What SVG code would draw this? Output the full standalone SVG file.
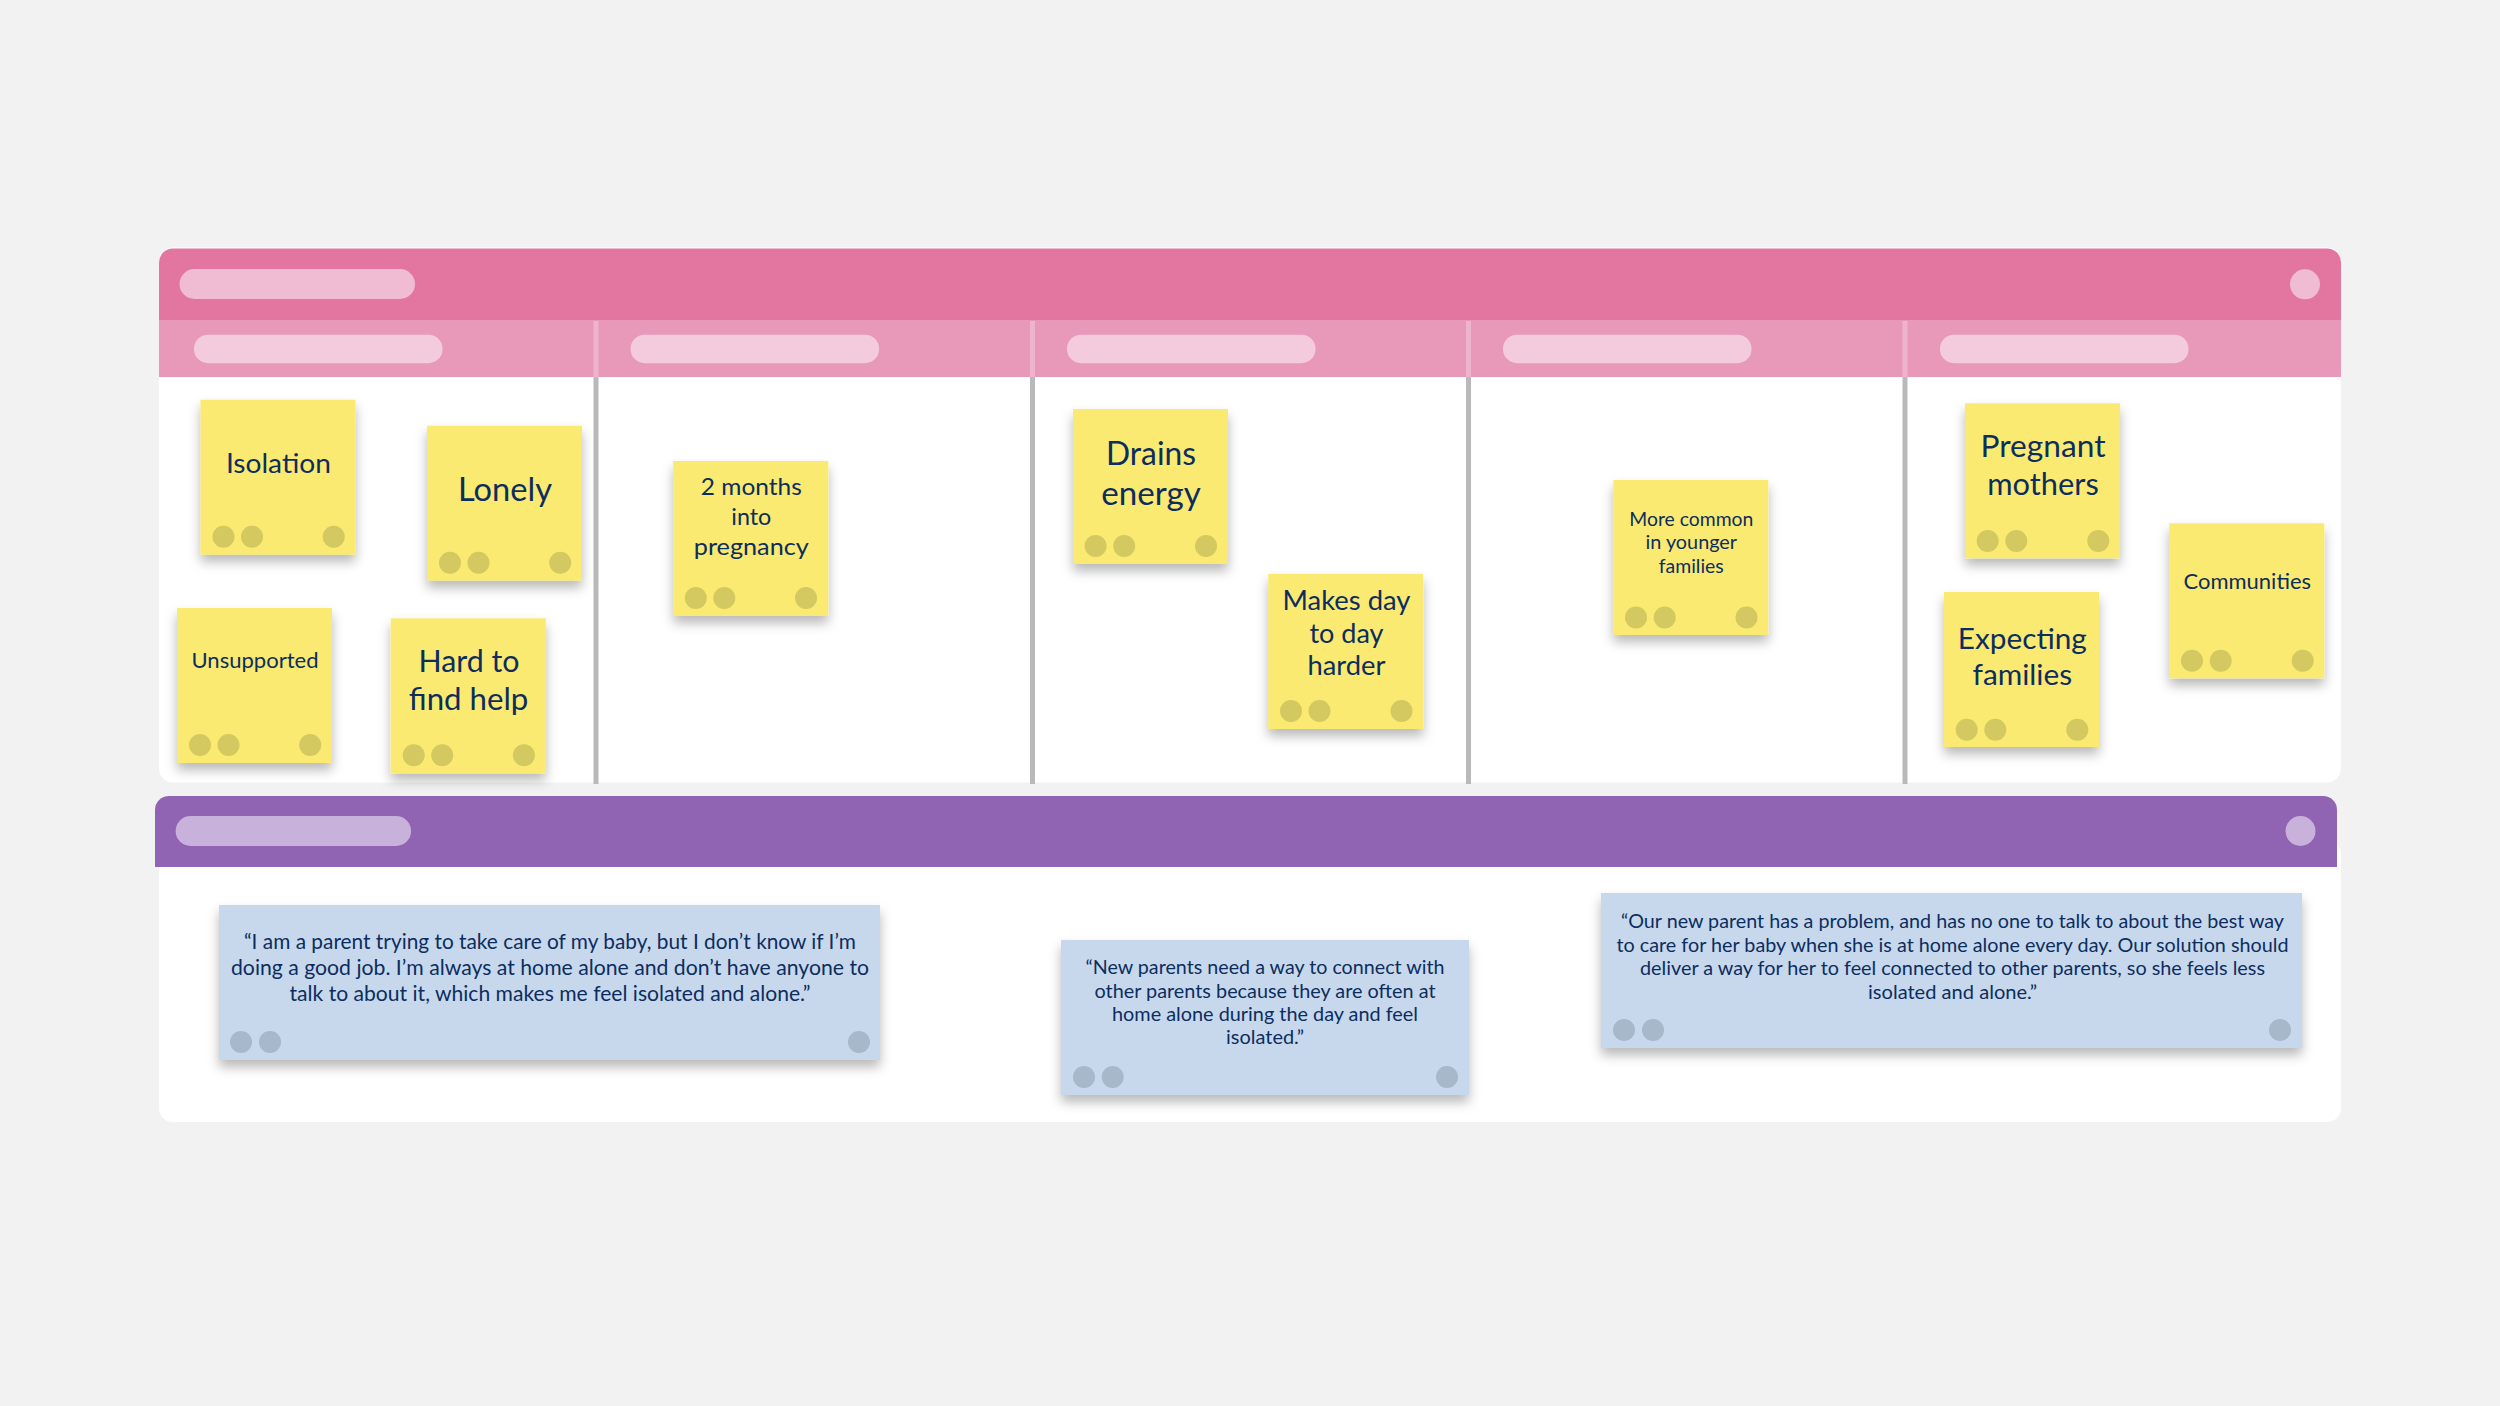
<svg xmlns="http://www.w3.org/2000/svg" width="2500" height="1406" viewBox="0 0 2500 1406">
<style>
text{font-family:"Lato","Liberation Sans",sans-serif;fill:#0c2d5e;text-anchor:middle}
.y{fill:#faea71;filter:url(#sh)}
.b{fill:#c7d8ed;filter:url(#sh)}
.yd{fill:#d4c860}
.bd{fill:#a6b8ca}
.pp{fill:#f0bcd3}
.sp{fill:#f4cbdc}
.dv{fill:#b9b9b9}
.dl{fill:#efb4cd}
</style>
<defs>
<filter id="sh" x="-20%" y="-20%" width="140%" height="140%"><feDropShadow dx="0" dy="7" stdDeviation="6" flood-color="#000" flood-opacity="0.28"/></filter>
</defs>
<rect width="2500" height="1406" fill="#f2f2f2"/>
<g id="panel-top">
<rect x="159" y="247.5" width="2182" height="535" rx="14" fill="#fff"/>
<path d="M159 320V262.500a14 14 0 0 1 14-14H2327a14 14 0 0 1 14 14V320Z" fill="#e376a0"/>
<rect x="159" y="320" width="2182" height="57" fill="#e898b8"/>
<rect class="pp" x="179.500" y="269" width="235.500" height="30" rx="15"/>
<circle class="pp" cx="2305" cy="284.300" r="15"/>
<rect class="sp" x="194" y="334.700" width="248.500" height="28.500" rx="14"/>
<rect class="sp" x="630.600" y="334.700" width="248.500" height="28.500" rx="14"/>
<rect class="sp" x="1067" y="334.700" width="248.500" height="28.500" rx="14"/>
<rect class="sp" x="1503" y="334.700" width="248.500" height="28.500" rx="14"/>
<rect class="sp" x="1940" y="334.700" width="248.500" height="28.500" rx="14"/>
<rect class="dl" x="593.500" y="321" width="5" height="56"/>
<rect class="dl" x="1030" y="321" width="5" height="56"/>
<rect class="dl" x="1466" y="321" width="5" height="56"/>
<rect class="dl" x="1902.500" y="321" width="5" height="56"/>
<rect class="dv" x="593.500" y="377" width="5" height="407"/>
<rect class="dv" x="1030" y="377" width="5" height="407"/>
<rect class="dv" x="1466" y="377" width="5" height="407"/>
<rect class="dv" x="1902.500" y="377" width="5" height="407"/>
</g>
<g id="panel-bottom">
<rect x="159" y="840" width="2182" height="282" rx="14" fill="#fff"/>
<path d="M155 867V810a14 14 0 0 1 14-14H2323a14 14 0 0 1 14 14V867Z" fill="#9163b3"/>
<rect x="175.600" y="816" width="235.500" height="30" rx="15" fill="#c8b1da"/>
<circle cx="2300.500" cy="831" r="15" fill="#c8b1da"/>
</g>
<g id="note-isolation"><rect class="y" x="200.500" y="399.700" width="155" height="155"/><circle class="yd" cx="223.500" cy="536.700" r="11"/><circle class="yd" cx="252" cy="536.700" r="11"/><circle class="yd" cx="333.700" cy="536.700" r="11"/><text x="278.400" y="472.700" font-size="27" textLength="105" lengthAdjust="spacingAndGlyphs">Isolation</text></g>
<g id="note-lonely"><rect class="y" x="427" y="425.700" width="155" height="155"/><circle class="yd" cx="450" cy="562.700" r="11"/><circle class="yd" cx="478.500" cy="562.700" r="11"/><circle class="yd" cx="560.200" cy="562.700" r="11"/><text x="505" y="500.700" font-size="32" textLength="94" lengthAdjust="spacingAndGlyphs">Lonely</text></g>
<g id="note-unsupported"><rect class="y" x="177" y="608" width="155" height="155"/><circle class="yd" cx="200" cy="745" r="11"/><circle class="yd" cx="228.500" cy="745" r="11"/><circle class="yd" cx="310.200" cy="745" r="11"/><text x="255" y="667.700" font-size="21" textLength="127" lengthAdjust="spacingAndGlyphs">Unsupported</text></g>
<g id="note-hard"><rect class="y" x="390.700" y="618.300" width="155" height="155"/><circle class="yd" cx="413.700" cy="755.300" r="11"/><circle class="yd" cx="442.200" cy="755.300" r="11"/><circle class="yd" cx="523.900" cy="755.300" r="11"/><text x="469" y="672" font-size="30" textLength="101" lengthAdjust="spacingAndGlyphs">Hard to</text><text x="468.600" y="710" font-size="30" textLength="119.500" lengthAdjust="spacingAndGlyphs">find help</text></g>
<g id="note-months"><rect class="y" x="673.300" y="461" width="155" height="155"/><circle class="yd" cx="695.800" cy="598" r="11"/><circle class="yd" cx="724.300" cy="598" r="11"/><circle class="yd" cx="806" cy="598" r="11"/><text x="751.300" y="494.700" font-size="24" textLength="101" lengthAdjust="spacingAndGlyphs">2 months</text><text x="751.300" y="524.700" font-size="24" textLength="40" lengthAdjust="spacingAndGlyphs">into</text><text x="751.300" y="554.700" font-size="24" textLength="115" lengthAdjust="spacingAndGlyphs">pregnancy</text></g>
<g id="note-drains"><rect class="y" x="1073" y="409" width="155" height="155"/><circle class="yd" cx="1095.600" cy="546" r="11"/><circle class="yd" cx="1124.200" cy="546" r="11"/><circle class="yd" cx="1206" cy="546" r="11"/><text x="1151" y="464.700" font-size="32" textLength="90" lengthAdjust="spacingAndGlyphs">Drains</text><text x="1151" y="504.700" font-size="32" textLength="99.500" lengthAdjust="spacingAndGlyphs">energy</text></g>
<g id="note-makes"><rect class="y" x="1268.300" y="574" width="155" height="155"/><circle class="yd" cx="1291" cy="711" r="11"/><circle class="yd" cx="1319.500" cy="711" r="11"/><circle class="yd" cx="1401.500" cy="711" r="11"/><text x="1346.500" y="610" font-size="26" textLength="128" lengthAdjust="spacingAndGlyphs">Makes day</text><text x="1346.500" y="642.700" font-size="26" textLength="74" lengthAdjust="spacingAndGlyphs">to day</text><text x="1346.500" y="675.300" font-size="26" textLength="78" lengthAdjust="spacingAndGlyphs">harder</text></g>
<g id="note-common"><rect class="y" x="1613.300" y="480" width="155" height="155"/><circle class="yd" cx="1636" cy="617.500" r="11"/><circle class="yd" cx="1664.700" cy="617.500" r="11"/><circle class="yd" cx="1746.500" cy="617.500" r="11"/><text x="1691.300" y="526" font-size="19" textLength="124" lengthAdjust="spacingAndGlyphs">More common</text><text x="1691.300" y="549.300" font-size="19" textLength="91.500" lengthAdjust="spacingAndGlyphs">in younger</text><text x="1691.300" y="572.700" font-size="19" textLength="65" lengthAdjust="spacingAndGlyphs">families</text></g>
<g id="note-pregnant"><rect class="y" x="1965" y="403.300" width="155" height="155"/><circle class="yd" cx="1987.700" cy="541" r="11"/><circle class="yd" cx="2016.300" cy="541" r="11"/><circle class="yd" cx="2098.300" cy="541" r="11"/><text x="2043" y="456.700" font-size="30" textLength="125" lengthAdjust="spacingAndGlyphs">Pregnant</text><text x="2043" y="494.700" font-size="30" textLength="111.500" lengthAdjust="spacingAndGlyphs">mothers</text></g>
<g id="note-communities"><rect class="y" x="2169.300" y="523.300" width="155" height="155"/><circle class="yd" cx="2192" cy="660.700" r="11"/><circle class="yd" cx="2220.700" cy="660.700" r="11"/><circle class="yd" cx="2302.700" cy="660.700" r="11"/><text x="2247.300" y="588.700" font-size="21" textLength="127.500" lengthAdjust="spacingAndGlyphs">Communities</text></g>
<g id="note-expecting"><rect class="y" x="1944" y="592" width="155" height="155"/><circle class="yd" cx="1966.700" cy="729.700" r="11"/><circle class="yd" cx="1995.300" cy="729.700" r="11"/><circle class="yd" cx="2077.300" cy="729.700" r="11"/><text x="2022.300" y="648.700" font-size="29" textLength="129" lengthAdjust="spacingAndGlyphs">Expecting</text><text x="2022.300" y="684.700" font-size="29" textLength="99.500" lengthAdjust="spacingAndGlyphs">families</text></g>
<g id="quote-1"><rect class="b" x="219" y="905" width="661" height="155"/><circle class="bd" cx="241" cy="1042" r="11"/><circle class="bd" cx="270" cy="1042" r="11"/><circle class="bd" cx="859" cy="1042" r="11"/><text x="550" y="949.300" font-size="21" textLength="612" lengthAdjust="spacingAndGlyphs">“I am a parent trying to take care of my baby, but I don’t know if I’m</text><text x="550" y="975.300" font-size="21" textLength="638" lengthAdjust="spacingAndGlyphs">doing a good job. I’m always at home alone and don’t have anyone to</text><text x="550" y="1001.300" font-size="21" textLength="521" lengthAdjust="spacingAndGlyphs">talk to about it, which makes me feel isolated and alone.”</text></g>
<g id="quote-2"><rect class="b" x="1061" y="940" width="408" height="155"/><circle class="bd" cx="1084" cy="1077" r="11"/><circle class="bd" cx="1112.700" cy="1077" r="11"/><circle class="bd" cx="1447" cy="1077" r="11"/><text x="1265" y="974" font-size="19" textLength="359" lengthAdjust="spacingAndGlyphs">“New parents need a way to connect with</text><text x="1265" y="997.700" font-size="19" textLength="341" lengthAdjust="spacingAndGlyphs">other parents because they are often at</text><text x="1265" y="1021" font-size="19" textLength="306" lengthAdjust="spacingAndGlyphs">home alone during the day and feel</text><text x="1265" y="1044.300" font-size="19" textLength="78" lengthAdjust="spacingAndGlyphs">isolated.”</text></g>
<g id="quote-3"><rect class="b" x="1601" y="893" width="701" height="155"/><circle class="bd" cx="1624" cy="1030" r="11"/><circle class="bd" cx="1653" cy="1030" r="11"/><circle class="bd" cx="2280" cy="1030" r="11"/><text x="1952.500" y="928" font-size="19" textLength="663" lengthAdjust="spacingAndGlyphs">“Our new parent has a problem, and has no one to talk to about the best way</text><text x="1952.500" y="951.500" font-size="19" textLength="672" lengthAdjust="spacingAndGlyphs">to care for her baby when she is at home alone every day. Our solution should</text><text x="1952.500" y="975" font-size="19" textLength="625" lengthAdjust="spacingAndGlyphs">deliver a way for her to feel connected to other parents, so she feels less</text><text x="1952.500" y="998.500" font-size="19" textLength="169" lengthAdjust="spacingAndGlyphs">isolated and alone.”</text></g>
</svg>
